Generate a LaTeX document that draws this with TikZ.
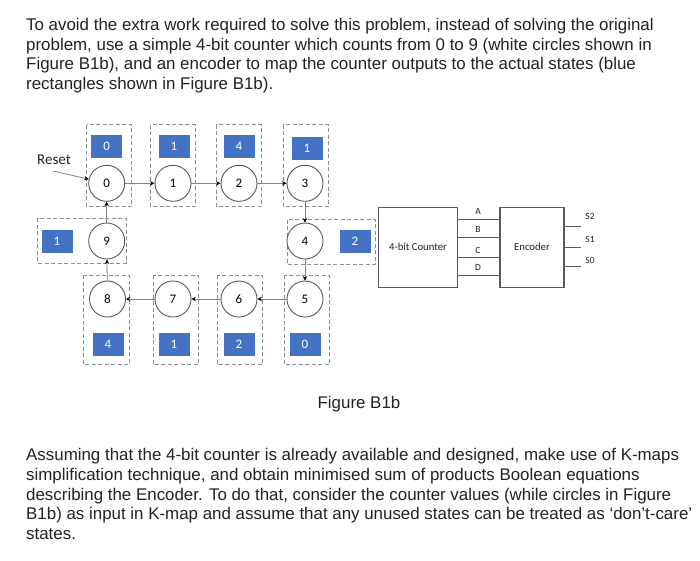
\documentclass[tikz,border=0pt]{standalone}
\usepackage{fontspec}
\setmainfont{Liberation Sans}
\newfontfamily\labelfont{Carlito}
\usetikzlibrary{arrows.meta}
\definecolor{diagcolor0001}{RGB}{68,114,196}
\definecolor{diagcolor0002}{RGB}{89,89,89}
\definecolor{diagcolor0003}{RGB}{132,143,155}
\definecolor{diagcolor0004}{RGB}{34,34,34}
\definecolor{diagcolor0005}{RGB}{130,130,130}
\begin{document}
\begin{tikzpicture}[yscale=-1
,pstyle0/.style={color=diagcolor0003,line width=1.0pt,dash pattern=on 4.0pt off 2.5pt}
,pstyle1/.style={draw=diagcolor0002,fill=white,line width=0.9pt,circle,minimum size=36pt,inner sep=0pt,text=black,font=\labelfont\fontsize{13pt}{15pt}\selectfont}
,pstyle2/.style={fill=diagcolor0001,minimum width=31pt,minimum height=23pt,inner sep=0pt,text=white,font=\labelfont\fontsize{13pt}{15pt}\selectfont}
,pstyle3/.style={color=diagcolor0005,line width=0.8pt,-{Stealth[length=4.5pt,width=4.5pt,color=black]}}
,pstyle4/.style={color=diagcolor0002,line width=1.0pt}
,pstyle5/.style={text=diagcolor0004,inner sep=0pt,font=\labelfont\fontsize{9.5pt}{11pt}\selectfont}
,pstyle6/.style={text=diagcolor0004,inner sep=0pt,anchor=north west,align=left,font=\fontsize{16.9pt}{19.6pt}\selectfont}
]
\useasboundingbox (0pt,0pt) rectangle (700pt,560pt);
\fill[white] (0pt,0pt) rectangle (700pt,560pt);
\node (para1) at (26pt,18pt)[pstyle6]{To avoid the extra work required to solve this problem, instead of solving the original\\
problem, use a simple 4-bit counter which counts from 0 to 9 (white circles shown in\\
Figure B1b), and an encoder to map the counter outputs to the actual states (blue\\
rectangles shown in Figure B1b).};
\draw[pstyle0] (86.7pt,124.7pt) rectangle (131.7pt,206.7pt);
\draw[pstyle0] (150.7pt,124.7pt) rectangle (195.3pt,206.7pt);
\draw[pstyle0] (216.3pt,124.7pt) rectangle (261.3pt,206.7pt);
\draw[pstyle0] (283pt,124.7pt) rectangle (328pt,206.7pt);
\draw[pstyle0] (37.7pt,218pt) rectangle (126pt,263pt);
\draw[pstyle0] (287.5pt,219.5pt) rectangle (375pt,264.7pt);
\draw[pstyle0] (83.7pt,275pt) rectangle (129pt,364.5pt);
\draw[pstyle0] (153pt,275pt) rectangle (198pt,364.5pt);
\draw[pstyle0] (217pt,275pt) rectangle (262pt,364.5pt);
\draw[pstyle0] (284pt,275pt) rectangle (329pt,364.5pt);
\node (s0) at (106.7pt,146pt)[pstyle2]{0};
\node (s1) at (174pt,146pt)[pstyle2]{1};
\node (s2) at (239pt,146pt)[pstyle2]{4};
\node (s3) at (307pt,148pt)[pstyle2]{1};
\node (s4) at (355pt,241pt)[pstyle2]{2};
\node (s5) at (305pt,344pt)[pstyle2]{0};
\node (s6) at (239pt,344pt)[pstyle2]{2};
\node (s7) at (174pt,344pt)[pstyle2]{1};
\node (s8) at (108pt,344pt)[pstyle2]{4};
\node (s9) at (57pt,241pt)[pstyle2]{1};
\node (c0) at (106.7pt,183.3pt)[pstyle1]{0};
\node (c1) at (173pt,183.3pt)[pstyle1]{1};
\node (c2) at (239pt,183.3pt)[pstyle1]{2};
\node (c3) at (305pt,183.3pt)[pstyle1]{3};
\node (c4) at (305pt,241pt)[pstyle1]{4};
\node (c5) at (305pt,299pt)[pstyle1]{5};
\node (c6) at (239pt,299pt)[pstyle1]{6};
\node (c7) at (173pt,299pt)[pstyle1]{7};
\node (c8) at (107.5pt,299pt)[pstyle1]{8};
\node (c9) at (106.7pt,241pt)[pstyle1]{9};
\foreach \a/\b in {c0/c1,c1/c2,c2/c3,c3/c4,c4/c5,c5/c6,c6/c7,c7/c8,c8/c9,c9/c0}
  \draw[pstyle3] (\a) -- (\b);
\node (reset) at (54pt,160pt)[text=diagcolor0004,inner sep=0pt,font=\labelfont\fontsize{15pt}{17pt}\selectfont]{Reset};
\coordinate (resetend) at (53pt,171pt);
\draw[pstyle3] (resetend) -- (c0);
\node (counter) at (418pt,247.3pt)[draw=diagcolor0002,line width=1.1pt,minimum width=79.4pt,minimum height=80pt,inner sep=0pt,text=diagcolor0004,font=\labelfont\fontsize{10.7pt}{12pt}\selectfont]{4-bit Counter};
\node (encoder) at (532pt,247.3pt)[draw=diagcolor0002,line width=1.1pt,minimum width=64pt,minimum height=80pt,inner sep=0pt,text=diagcolor0004,font=\labelfont\fontsize{10.7pt}{12pt}\selectfont]{Encoder};
\foreach \n/\y in {a/219,b/237,c/257,d/275.5}{
  \coordinate (\n l) at (counter.east |- 0pt,\y pt);
  \coordinate (\n r) at (encoder.west |- 0pt,\y pt);
  \draw[pstyle4] (\n l) -- (\n r);
}
\foreach \n/\y in {s2/226,s1/247.3,s0/266.7}{
  \coordinate (\n l) at (encoder.east |- 0pt,\y pt);
  \coordinate (\n r) at (581pt,\y pt);
  \draw[pstyle4] (\n l) -- (\n r);
}
\node (la) at (478pt,211pt)[pstyle5]{A};
\node (lb) at (478pt,229.5pt)[pstyle5]{B};
\node (lc) at (478pt,250pt)[pstyle5]{C};
\node (ld) at (478pt,267pt)[pstyle5]{D};
\node (ls2) at (590pt,216.7pt)[pstyle5]{S2};
\node (ls1) at (590pt,239pt)[pstyle5]{S1};
\node (ls0) at (590pt,260pt)[pstyle5]{S0};
\node (caption) at (359pt,404pt)[text=diagcolor0004,inner sep=0pt,font=\fontsize{16.9pt}{19pt}\selectfont]{Figure B1b};
\node (para2) at (26pt,448.5pt)[pstyle6]{Assuming that the 4-bit counter is already available and designed, make use of K-maps\\
simplification technique, and obtain minimised sum of products Boolean equations\\
describing the Encoder. To do that, consider the counter values (while circles in Figure\\
B1b) as input in K-map and assume that any unused states can be treated as ‘don’t-care’\\
states.};
\end{tikzpicture}
\end{document}
